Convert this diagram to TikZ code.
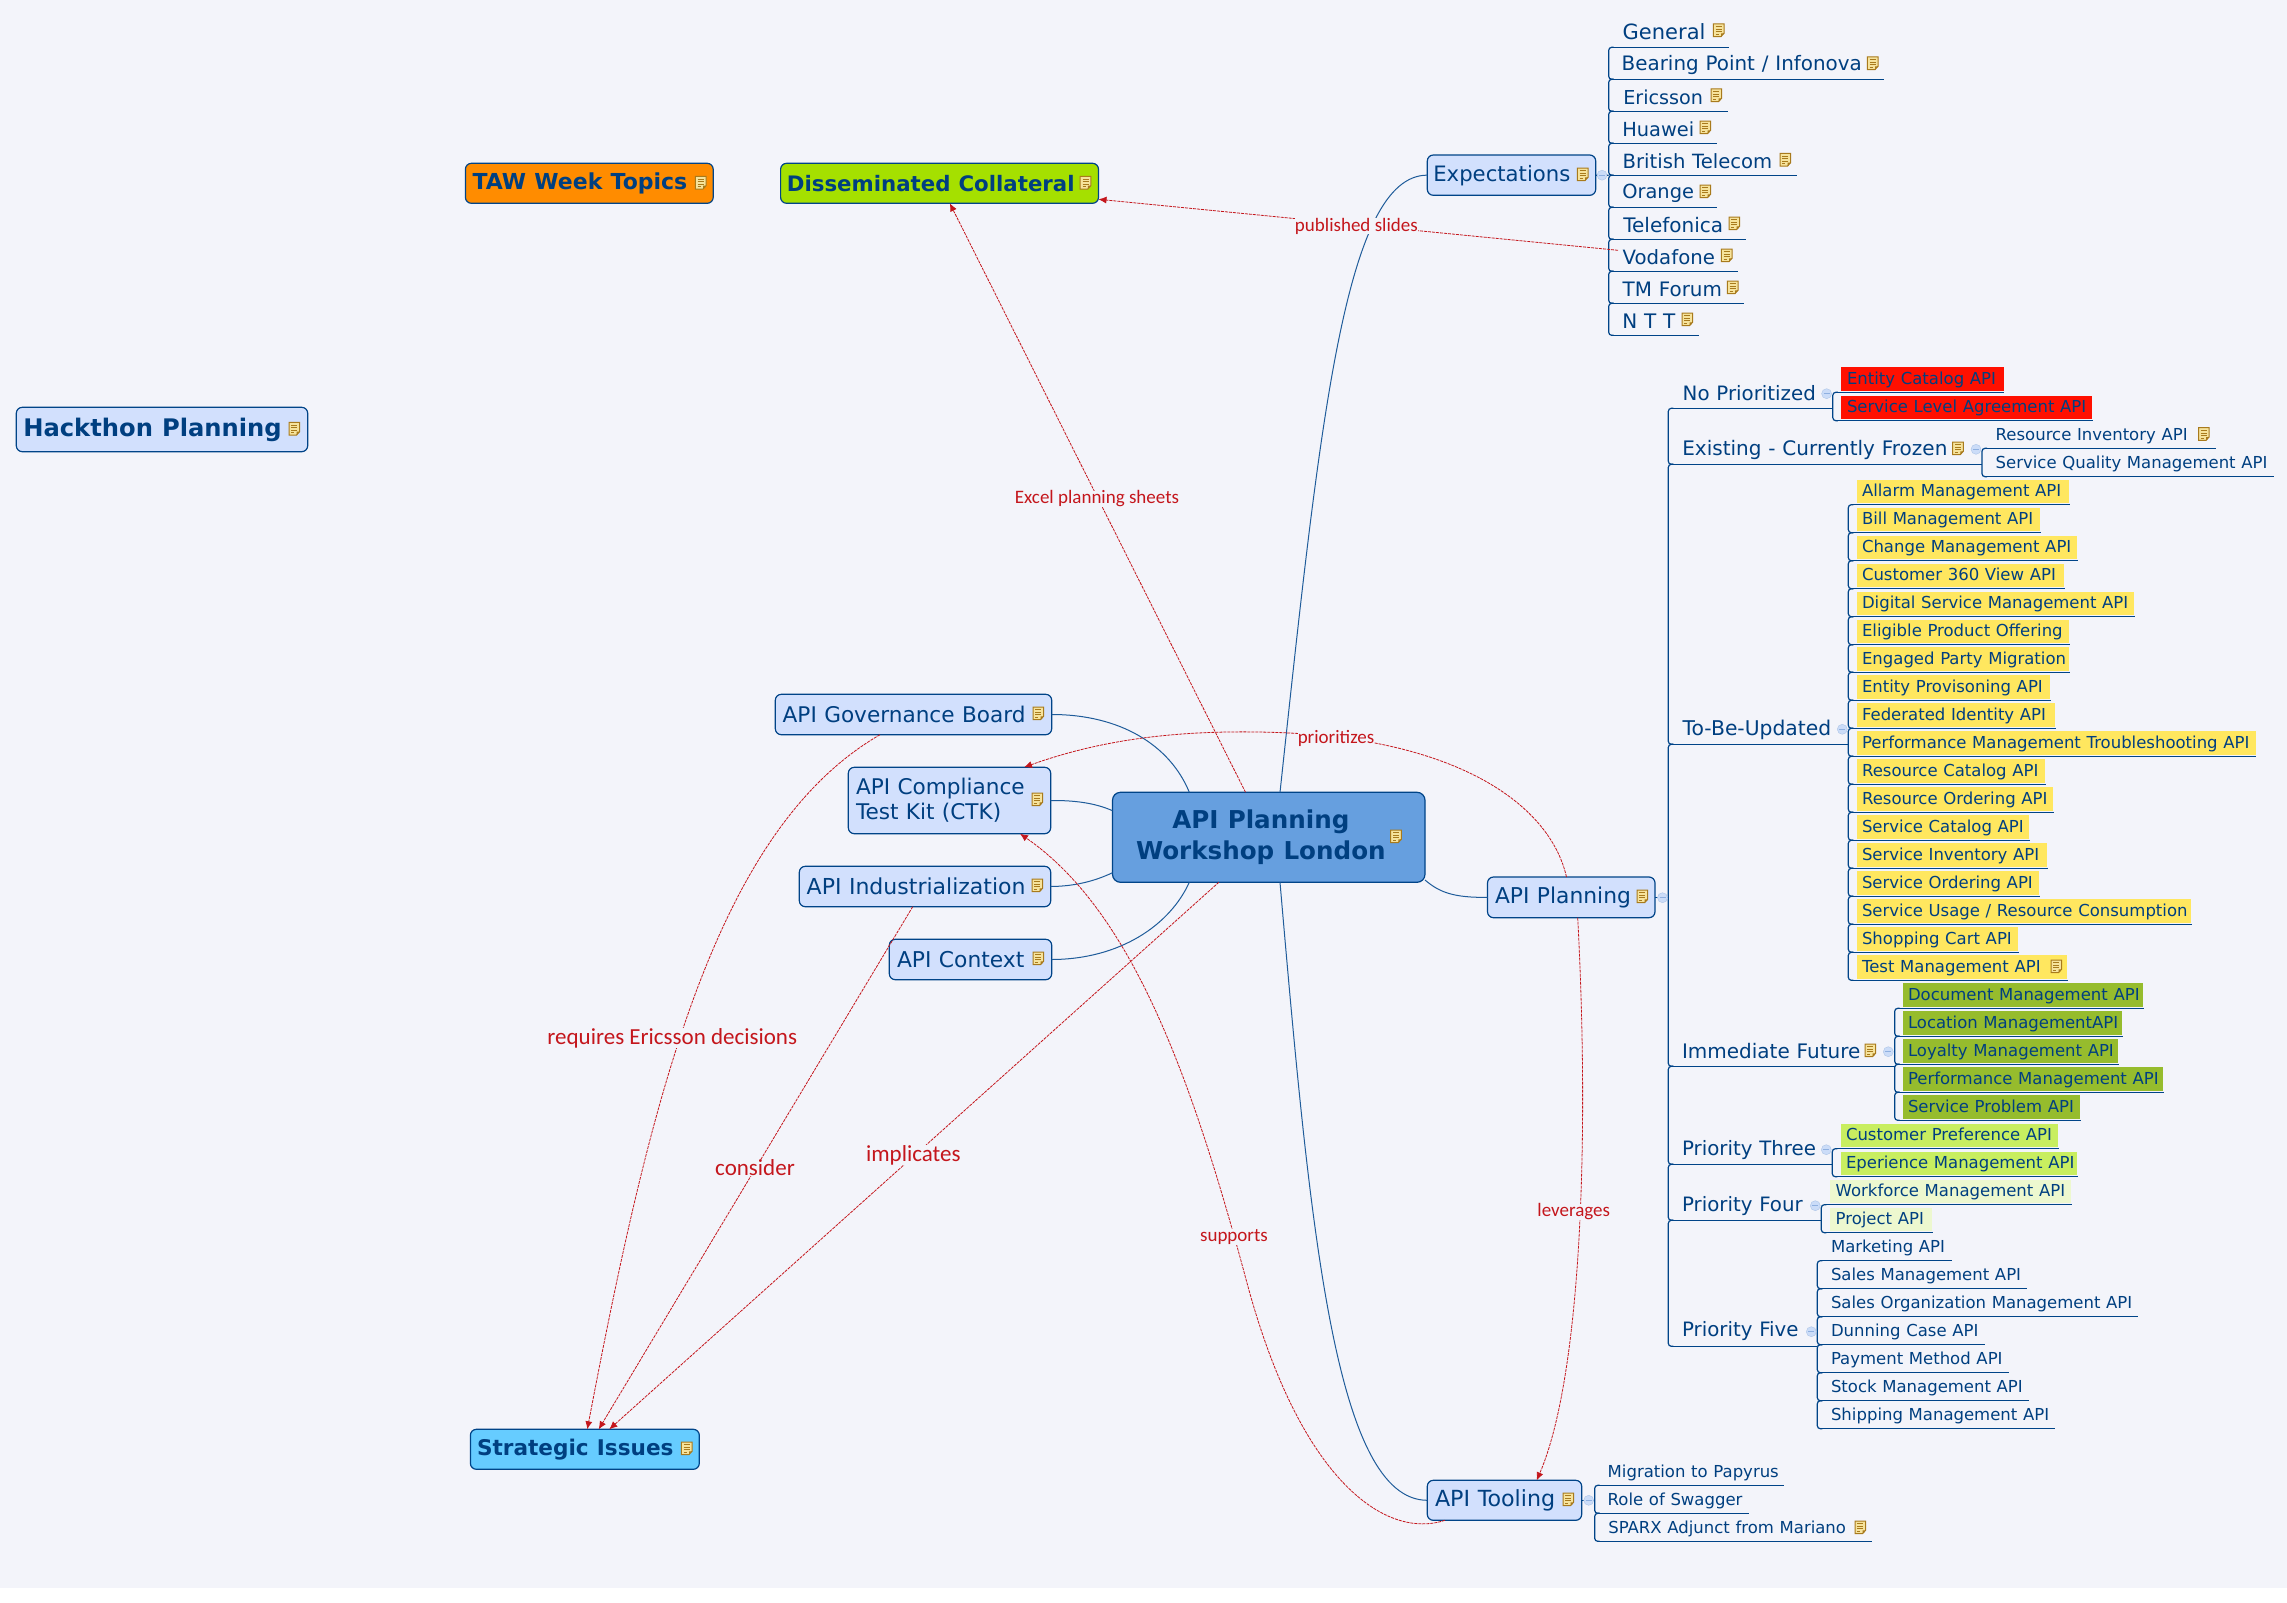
\documentclass[tikz,border=0pt]{standalone}
\usepackage{fontspec}
\setmainfont[WordSpace=1.08]{DejaVu Sans}
\newfontfamily\lblfont{Carlito}
\usetikzlibrary{arrows.meta,calc}
\definecolor{bgc}{HTML}{F3F4FA}
\definecolor{inkc}{HTML}{003F80}
\definecolor{linec}{HTML}{004488}
\definecolor{brc}{HTML}{1F5C9A}
\definecolor{topicc}{HTML}{D2E0FD}
\definecolor{centerc}{HTML}{669FDF}
\definecolor{redc}{HTML}{C4161C}
\definecolor{noteF}{HTML}{F6E39C}
\definecolor{noteB}{HTML}{A87A1C}
\definecolor{ylw}{HTML}{FFE75F}
\definecolor{grn}{HTML}{96BC2D}
\definecolor{lim}{HTML}{C8EE60}
\definecolor{pal}{HTML}{EDF8CF}
\definecolor{redf}{HTML}{FF1000}
\definecolor{collf}{HTML}{CBDCF8}
\definecolor{collm}{HTML}{8FB0E0}
\newcommand\fs[1]{\fontsize{#1}{#1}\selectfont}
\newcommand\bx[9][]{%
  \pgfmathsetmacro\bw{#4-#3}\pgfmathsetmacro\bp{#7-#3}%
  \pgfmathsetmacro\bh{#8-#5}\pgfmathsetmacro\bd{#6-#8}%
  \node[#1,rectangle,inner sep=0pt,outer sep=0pt,anchor=north west,text=inkc,
        text height=\bh pt,text depth=\bd pt] (#2) at (#3,#5)
        {\makebox[\bw pt][l]{\hspace*{\bp pt}#9}};}
\newcommand\lf[8]{%
  \pgfmathsetmacro\ly{#4-22}\pgfmathsetmacro\lb{#4-#6}%
  \bx{#1}{#2}{#3}{\ly}{#4}{#5}{\lb}{\fs{#7}#8}%
  \draw[uline] ([xshift=3pt]#1.south west) -- (#1.south east);}
\newcommand\cl[8]{%
  \fill[#1] (#2,#6-25) rectangle (#5-0.7,#6-1.3);
  \lf{#3}{#4}{#5}{#6}{#7}{8}{16.5}{#8}}
\newcommand\noteicon[2]{\begin{scope}[shift={(#1,#2)}]
  \filldraw[fill=noteF,draw=noteB,line width=1pt] (-5.3,-6.3)--(5.3,-6.3)--(5.3,3)--(2.3,6.3)--(-5.3,6.3)--cycle;
  \fill[noteB] (5.3,3)--(2.3,3)--(2.3,6.3)--cycle;
  \draw[noteB,line width=.8pt] (-3,-3.5)--(3,-3.5) (-3,-1)--(3,-1) (-3,1.5)--(3,1.5) (-3,4)--(0,4);
  \end{scope}}
\tikzset{
  topicbox/.style={draw=linec,line width=1.2pt,rounded corners=6pt,fill=topicc},
  uline/.style={draw=linec,line width=1.2pt},
  tree/.style={draw=linec,line width=1.2pt,rounded corners=3pt},
  branch/.style={draw=brc,line width=1pt},
  rel/.style={draw=redc,line width=.8pt,dash pattern=on 3pt off 1pt},
  relarrow/.style={rel,-{Latex[length=8pt,width=7pt]}},
  rellabel/.style={text=redc,inner sep=0pt,fill=bgc,font=\lblfont\fs{#1}},
  collbtn/.style={circle,fill=collf,draw=collf!85!linec,line width=.4pt,minimum size=10pt,inner sep=0pt,
    path picture={\draw[collm,line width=.9pt] ([xshift=-3pt]path picture bounding box.center) -- ([xshift=3pt]path picture bounding box.center);}}
}
\begin{document}
\begin{tikzpicture}[x=1pt,y=-1pt]
\useasboundingbox (0,0) rectangle (2287,1603);
\fill[white] (0,0) rectangle (2287,1603);
\fill[bgc] (0,0) rectangle (2287,1588);

% ---------- main topic
\bx[topicbox,fill=centerc,rounded corners=8pt]{central}{1112.5}{1425}{792.3}{882.3}{1136}{859}{\fontsize{24.6}{30.7}\selectfont\bfseries\begin{tabular}[b]{@{}c@{}}API Planning\\Workshop London\end{tabular}}
% ---------- topics
\bx[topicbox]{expect}{1427.3}{1595.7}{155}{195.3}{1433.3}{181.7}{\fs{21.2}Expectations}
\bx[topicbox]{planning}{1487.5}{1655}{877}{917.7}{1495}{903.3}{\fs{21.8}API Planning}
\bx[topicbox]{tooling}{1427.3}{1581.7}{1480.3}{1520.3}{1435}{1506.7}{\fs{22.2}API Tooling}
\bx[topicbox]{gov}{775.3}{1051.7}{694.3}{734.7}{782.7}{722.3}{\fs{21.6}API Governance Board}
\bx[topicbox]{ctk}{848.3}{1050.7}{767.3}{833.7}{856}{819.3}{\fontsize{21.6}{25.3}\selectfont\begin{tabular}[b]{@{}l@{}}API Compliance\\Test Kit (CTK)\end{tabular}}
\bx[topicbox]{indus}{799.3}{1050.7}{866.3}{906.7}{806.7}{894.3}{\fs{22}API Industrialization}
\bx[topicbox]{context}{889.3}{1051.7}{939.3}{979.7}{897}{967.3}{\fs{21.8}API Context}
\bx[topicbox]{hack}{16.3}{307.7}{407.3}{451.7}{23.3}{436.7}{\fs{24.2}\bfseries Hackthon Planning}
\bx[topicbox,fill={rgb,255:red,255;green,140;blue,0}]{taw}{465.4}{713.2}{163.3}{203.3}{472.6}{189.3}{\fs{22}\bfseries TAW Week Topics}
\bx[topicbox,fill={rgb,255:red,165;green,224;blue,0}]{dissem}{780.6}{1098.5}{163.3}{203.3}{786.9}{191.3}{\fs{21.3}\bfseries Disseminated Collateral}
\bx[topicbox,fill={rgb,255:red,102;green,204;blue,255}]{strat}{470.4}{699.3}{1429.3}{1469.3}{477}{1455.3}{\fs{21.6}\bfseries Strategic Issues}

% ---------- branches from the centre
\draw[branch] (gov.east) .. controls (1120,714.5) and (1170,745) .. ([xshift=76.8pt]central.north west);
\draw[branch] (ctk.east) .. controls (1075,800.3) and (1095,803) .. ([yshift=-18.4pt]central.north west);
\draw[branch] (indus.east) .. controls (1075,886.3) and (1095,881) .. ([yshift=9.6pt]central.south west);
\draw[branch] (context.east) .. controls (1120,959.3) and (1170,925) .. ([xshift=76.8pt]central.south west);
\draw[branch] (planning.west) .. controls (1455,897.7) and (1440,893) .. ([yshift=2.3pt]central.south east);
\draw[branch] (expect.west) .. controls (1345,175.3) and (1320,420) .. ([xshift=167.5pt]central.north west);
\draw[branch] (tooling.west) .. controls (1335,1500) and (1310,1230) .. ([xshift=167.5pt]central.south west);

% ---------- Expectations subtree
\lf{ge}{1608.7}{1729}{47.3}{1622.7}{8}{21}{General}
\lf{be}{1608.7}{1884}{79.3}{1621.7}{8.6}{19.9}{Bearing Point / Infonova}
\lf{er}{1608.7}{1728}{111.3}{1623.3}{7.3}{19.2}{Ericsson}
\lf{hu}{1608.7}{1717}{143.3}{1622.3}{7.3}{19.4}{Huawei}
\lf{bt}{1608.7}{1797}{175.2}{1622.7}{7.2}{19.6}{British Telecom}
\lf{or}{1608.7}{1717}{207.3}{1622.3}{9}{19.4}{Orange}
\lf{te}{1608.7}{1746}{239.3}{1623.3}{7.3}{20}{Telefonica}
\lf{vo}{1608.7}{1738}{271.3}{1622.7}{7.3}{19.7}{Vodafone}
\lf{tm}{1608.7}{1744}{303.3}{1622.7}{7.3}{19.9}{TM Forum}
\lf{nt}{1608.7}{1699}{335.3}{1622.3}{7.3}{20}{N T T}
\foreach \a/\b in {ge/be,be/er,er/hu,hu/bt,bt/or,or/te,te/vo,vo/tm,tm/nt}
  \draw[tree] ([xshift=5pt]\a.south west) -- (\a.south west) -- (\b.south west) -- ([xshift=5pt]\b.south west);
\draw[uline] (expect.east) -- (bt.south west);
\node[collbtn] (cexpect) at (1602,175.2) {};

% ---------- API Planning subtree: second level
\lf{noprio}{1668.3}{1832.8}{408.3}{1682.7}{7.7}{19.8}{No Prioritized}
\lf{exist}{1668.3}{1982}{464.3}{1682.3}{9.3}{20}{Existing - Currently Frozen}
\lf{tobe}{1668.3}{1848.3}{744.3}{1682.7}{9.3}{20.3}{To-Be-Updated}
\lf{immed}{1668.3}{1894.7}{1066.3}{1682}{7.7}{20}{Immediate Future}
\lf{pthree}{1668.3}{1832.3}{1164.3}{1682}{9}{19.8}{Priority Three}
\lf{pfour}{1668.3}{1821.3}{1220.3}{1682}{9}{19.8}{Priority Four}
\lf{pfive}{1668.3}{1817.3}{1346.3}{1682}{9.7}{19.8}{Priority Five}
\foreach \a/\b in {noprio/exist,exist/tobe,tobe/immed,immed/pthree,pthree/pfour,pfour/pfive}
  \draw[tree] ([xshift=5pt]\a.south west) -- (\a.south west) -- (\b.south west) -- ([xshift=5pt]\b.south west);
\draw[uline] (planning.east) -- (planning.east -| noprio.south west);
\node[collbtn] (cplanning) at (1662.5,897.7) {};

% No Prioritized
\cl{redf}{1841}{ecat}{1832.8}{2004.4}{392.3}{1847}{Entity Catalog API}
\cl{redf}{1841}{slaa}{1832.8}{2093}{420.7}{1847}{Service Level Agreement API}
\draw[tree] ([xshift=5pt]ecat.south west) -- (ecat.south west) -- (slaa.south west) -- ([xshift=5pt]slaa.south west);
\node[collbtn] (cnoprio) at (1826.6,393.7) {};
% Existing
\lf{rinv}{1982}{2215.5}{448.3}{1995.7}{8}{16.5}{Resource Inventory API}
\lf{squal}{1982}{2273.5}{476.7}{1995.7}{8}{16.5}{Service Quality Management API}
\draw[tree] ([xshift=5pt]rinv.south west) -- (rinv.south west) -- (squal.south west) -- ([xshift=5pt]squal.south west);
\node[collbtn] (cexist) at (1976,449.3) {};
% To-Be-Updated
\cl{ylw}{1857}{y01}{1848.3}{2069.5}{504.7}{1862}{Allarm Management API}
\cl{ylw}{1857}{y02}{1848.3}{2041}{532.7}{1862}{Bill Management API}
\cl{ylw}{1857}{y03}{1848.3}{2078}{560.7}{1862}{Change Management API}
\cl{ylw}{1857}{y04}{1848.3}{2064.5}{588.7}{1862}{Customer 360 View API}
\cl{ylw}{1857}{y05}{1848.3}{2135}{616.7}{1862}{Digital Service Management API}
\cl{ylw}{1857}{y06}{1848.3}{2069.5}{644.7}{1862}{Eligible Product Offering}
\cl{ylw}{1857}{y07}{1848.3}{2069.7}{672.3}{1862}{Engaged Party Migration}
\cl{ylw}{1857}{y08}{1848.3}{2050.7}{700.3}{1862}{Entity Provisoning API}
\cl{ylw}{1857}{y09}{1848.3}{2055.7}{728.3}{1862}{Federated Identity API}
\cl{ylw}{1857}{y10}{1848.3}{2256.3}{756.3}{1862}{Performance Management Troubleshooting API}
\cl{ylw}{1857}{y11}{1848.3}{2045.7}{784.3}{1862}{Resource Catalog API}
\cl{ylw}{1857}{y12}{1848.3}{2053.7}{812.3}{1862}{Resource Ordering API}
\cl{ylw}{1857}{y13}{1848.3}{2029.7}{840.3}{1862}{Service Catalog API}
\cl{ylw}{1857}{y14}{1848.3}{2047.7}{868.3}{1862}{Service Inventory API}
\cl{ylw}{1857}{y15}{1848.3}{2039.7}{896.3}{1862}{Service Ordering API}
\cl{ylw}{1857}{y16}{1848.3}{2192}{924.3}{1862}{Service Usage / Resource Consumption}
\cl{ylw}{1857}{y17}{1848.3}{2018.7}{952.3}{1862}{Shopping Cart API}
\cl{ylw}{1857}{y18}{1848.3}{2067.7}{980.3}{1862}{Test Management API}
\foreach \a/\b in {y01/y02,y02/y03,y03/y04,y04/y05,y05/y06,y06/y07,y07/y08,y08/y09,y09/y10,y10/y11,y11/y12,y12/y13,y13/y14,y14/y15,y15/y16,y16/y17,y17/y18}
  \draw[tree] ([xshift=5pt]\a.south west) -- (\a.south west) -- (\b.south west) -- ([xshift=5pt]\b.south west);
\node[collbtn] (ctobe) at (1842.3,729.3) {};
% Immediate Future
\cl{grn}{1903}{g1}{1894.7}{2143.7}{1008.3}{1908}{Document Management API}
\cl{grn}{1903}{g2}{1894.7}{2122.7}{1036.3}{1908}{Location ManagementAPI}
\cl{grn}{1903}{g3}{1894.7}{2118.7}{1064.3}{1908}{Loyalty Management API}
\cl{grn}{1903}{g4}{1894.7}{2163.7}{1092.3}{1908}{Performance Management API}
\cl{grn}{1903}{g5}{1894.7}{2080.7}{1120.3}{1908}{Service Problem API}
\foreach \a/\b in {g1/g2,g2/g3,g3/g4,g4/g5}
  \draw[tree] ([xshift=5pt]\a.south west) -- (\a.south west) -- (\b.south west) -- ([xshift=5pt]\b.south west);
\node[collbtn] (cimmed) at (1888.3,1051.7) {};
% Priority Three
\cl{lim}{1841}{t1}{1832.3}{2058.7}{1148.7}{1846}{Customer Preference API}
\cl{lim}{1841}{t2}{1832.3}{2077.7}{1176.7}{1846}{Eperience Management API}
\draw[tree] ([xshift=5pt]t1.south west) -- (t1.south west) -- (t2.south west) -- ([xshift=5pt]t2.south west);
\node[collbtn] (cthree) at (1826.3,1149.7) {};
% Priority Four
\cl{pal}{1829.7}{f1}{1821.3}{2071.7}{1204.7}{1835.7}{Workforce Management API}
\cl{pal}{1829.7}{f2}{1821.3}{1932.7}{1232.7}{1835.7}{Project API}
\draw[tree] ([xshift=5pt]f1.south west) -- (f1.south west) -- (f2.south west) -- ([xshift=5pt]f2.south west);
\node[collbtn] (cfour) at (1815.3,1205.7) {};
% Priority Five
\lf{p1}{1817.3}{1951.7}{1260.7}{1831}{8}{16.5}{Marketing API}
\lf{p2}{1817.3}{2026.7}{1288.7}{1831}{8}{16.5}{Sales Management API}
\lf{p3}{1817.3}{2137.7}{1316.7}{1831}{8}{16.5}{Sales Organization Management API}
\lf{p4}{1817.3}{1984.7}{1344.7}{1831}{8}{16.5}{Dunning Case API}
\lf{p5}{1817.3}{2008.7}{1372.7}{1831}{8}{16.5}{Payment Method API}
\lf{p6}{1817.3}{2028.7}{1400.7}{1831}{8}{16.5}{Stock Management API}
\lf{p7}{1817.3}{2054.7}{1428.7}{1831}{8}{16.5}{Shipping Management API}
\foreach \a/\b in {p1/p2,p2/p3,p3/p4,p4/p5,p5/p6,p6/p7}
  \draw[tree] ([xshift=5pt]\a.south west) -- (\a.south west) -- (\b.south west) -- ([xshift=5pt]\b.south west);
\node[collbtn] (cfive) at (1811.3,1331.7) {};
% API Tooling
\lf{mig}{1594.7}{1783.7}{1485.3}{1607.7}{8}{16.5}{Migration to Papyrus}
\lf{swag}{1594.7}{1748.7}{1513.3}{1607.7}{8}{16.5}{Role of Swagger}
\lf{spx}{1594.7}{1871.7}{1541.3}{1608.3}{8}{16.5}{SPARX Adjunct from Mariano}
\foreach \a/\b in {mig/swag,swag/spx}
  \draw[tree] ([xshift=5pt]\a.south west) -- (\a.south west) -- (\b.south west) -- ([xshift=5pt]\b.south west);
\draw[uline] (tooling.east) -- (tooling.east -| mig.south west);
\node[collbtn] (ctool) at (1588.7,1500.3) {};

% ---------- note icons
\noteicon{1396}{836.3}
\noteicon{1582.7}{174.3}\noteicon{1642.4}{896.3}\noteicon{1568.3}{1499.3}
\noteicon{1038.3}{713.3}\noteicon{1037.3}{799.3}\noteicon{1037.3}{885.3}\noteicon{1038.3}{958.3}
\noteicon{294.3}{428.7}\noteicon{700.7}{182.7}\noteicon{1085.5}{182.7}\noteicon{686.7}{1448.3}
\noteicon{1718.7}{30.3}\noteicon{1872.7}{63.3}\noteicon{1716.3}{95.3}\noteicon{1705.3}{127.3}
\noteicon{1785.3}{159.7}\noteicon{1705.3}{191.3}\noteicon{1734.3}{223.3}\noteicon{1726.7}{255.3}
\noteicon{1732.7}{287.3}\noteicon{1687.3}{319.3}
\noteicon{1958}{448.3}\noteicon{2203.8}{434}\noteicon{2056.3}{966.3}\noteicon{1870.3}{1050.3}
\noteicon{1860.3}{1527.3}

% ---------- relationships
\draw[relarrow] ([xshift=133pt]central.north west) -- ([xshift=169.2pt]dissem.south west);
\draw[relarrow] ([xshift=9.3pt,yshift=-1pt]vo.north west) -- ([yshift=4pt]dissem.south east);
\draw[relarrow] ([xshift=79pt]planning.north west) .. controls (1550,805) and (1460,742) .. (1290,733)
   .. controls (1180,728) and (1100,740) .. ([xshift=175.7pt]ctk.north west);
\draw[relarrow] ([xshift=90.2pt]planning.south west) .. controls (1590,1150) and (1580,1380) .. ([xshift=109.4pt]tooling.north west);
\draw[relarrow] ([xshift=17.7pt]tooling.south west) .. controls (1385,1540) and (1300,1480) .. (1247,1283)
   .. controls (1190,1070) and (1130,910) .. ([xshift=171.7pt]ctk.south west);
\draw[relarrow] ([xshift=104.7pt]gov.south west) .. controls (715,830) and (650,1100) .. ([xshift=116.9pt]strat.north west);
\draw[relarrow] ([xshift=113.4pt]indus.south west) -- ([xshift=128.3pt]strat.north west);
\draw[relarrow] ([xshift=106.3pt]central.south west) -- ([xshift=138.9pt]strat.north west);

\node[rellabel=19] (lexcel) at (1097,499) {Excel planning sheets};
\node[rellabel=19] (lpub) at (1356.4,226) {published slides};
\node[rellabel=19] (lprio) at (1336,738) {prioritizes};
\node[rellabel=19] (lsupp) at (1234,1237) {supports};
\node[rellabel=19] (llev) at (1573.7,1212) {leverages};
\node[rellabel=23] (lreq) at (672.3,1038) {requires Ericsson decisions};
\node[rellabel=23] (lcons) at (755,1168) {consider};
\node[rellabel=23] (limp) at (913.3,1155) {implicates};
\end{tikzpicture}
\end{document}
